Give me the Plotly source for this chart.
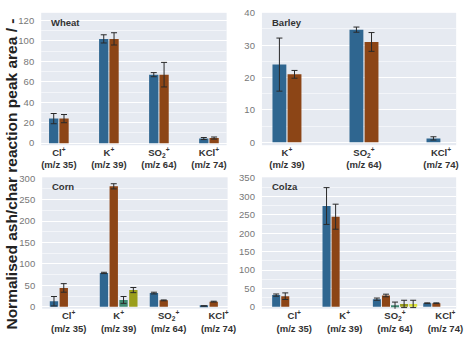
import plotly.graph_objects as go

# ---------------- data ----------------
tick_text = {
    "Cl": "<b>Cl<sup>+</sup></b><br><b>(m/z 35)</b>",
    "K": "<b>K<sup>+</sup></b><br><b>(m/z 39)</b>",
    "SO2": "<b>SO<sub>2</sub><sup>+</sup></b><br><b>(m/z 64)</b>",
    "KCl": "<b>KCl<sup>+</sup></b><br><b>(m/z 74)</b>",
}

wheat_cats = ["Cl", "K", "SO2", "KCl"]
wheat_s1 = [24, 102, 67, 4.5]
wheat_s1_err = [5, 4, 2, 1]
wheat_s2 = [24, 102, 67, 5]
wheat_s2_err = [4, 6, 12, 1]

barley_cats = ["K", "SO2", "KCl"]
barley_s1 = [24, 34.8, 1.2]
barley_s1_err = [8.2, 0.8, 0.5]
barley_s2 = [21, 31, None]
barley_s2_err = [1.2, 2.9, None]

corn_cats = ["Cl", "K", "SO2", "KCl"]
corn_s1 = [13, 79, 32, 2]
corn_s1_err = [11, 1.5, 2, 0.5]
corn_s2 = [44, 281, 15, 12]
corn_s2_err = [10, 6, 1, 1]
corn_s3 = [None, 16, None, None]
corn_s3_err = [None, 8, None, None]
corn_s4 = [None, 39, None, None]
corn_s4_err = [None, 6, None, None]

colza_cats = ["Cl", "K", "SO2", "KCl"]
colza_s1 = [32, 274, 21, 10]
colza_s1_err = [3, 50, 3, 1]
colza_s2 = [29, 245, 31, 10]
colza_s2_err = [9, 34, 3.5, 1]
colza_s3 = [None, None, 3, None]
colza_s3_err = [None, None, 10, None]
colza_s4 = [None, None, 8, None]
colza_s4_err = [None, None, 10, None]
colza_s5 = [None, None, 8, None]
colza_s5_err = [None, None, 10, None]

# ---------------- style ----------------
colors = ["#2f6690", "#8c4516", "#3f8a72", "#9a9e1c", "#d9e03c"]
FONT = "Liberation Sans, Arial, sans-serif"
W, H = 474, 338

panels = [
    dict(name="Wheat", cats=wheat_cats,
         series=[(wheat_s1, wheat_s1_err), (wheat_s2, wheat_s2_err)],
         ax="", xpx=(42, 231), ypx=(7, 143), yr=[-2, 127.5], dt=20,
         slot=0.206, bar=0.186, xr=[-0.353, 3.353]),
    dict(name="Barley", cats=barley_cats,
         series=[(barley_s1, barley_s1_err), (barley_s2, barley_s2_err)],
         ax="2", xpx=(267, 465), ypx=(7, 143), yr=[-0.9, 40], dt=10,
         slot=0.196, bar=0.18, xr=[-0.325, 2.197]),
    dict(name="Corn", cats=corn_cats,
         series=[(corn_s1, corn_s1_err), (corn_s2, corn_s2_err),
                 (corn_s3, corn_s3_err), (corn_s4, corn_s4_err)],
         ax="3", xpx=(43, 232), ypx=(176, 311), yr=[-4.5, 302], dt=50,
         slot=0.196, bar=0.167, xr=[-0.53, 3.18]),
    dict(name="Colza", cats=colza_cats,
         series=[(colza_s1, colza_s1_err), (colza_s2, colza_s2_err),
                 (colza_s3, colza_s3_err), (colza_s4, colza_s4_err),
                 (colza_s5, colza_s5_err)],
         ax="4", xpx=(267, 465), ypx=(176, 311), yr=[-5, 352], dt=50,
         slot=0.18, bar=0.16, xr=[-0.643, 3.214]),
]

fig = go.Figure()
layout = dict(
    width=W, height=H, margin=dict(l=0, r=0, t=0, b=0),
    paper_bgcolor="white", plot_bgcolor="#e6eaf1",
    showlegend=False, barmode="overlay",
    font=dict(family=FONT, size=10, color="#333"),
)
annotations = []

for p in panels:
    n = len(p["series"])
    start = -n * p["slot"] / 2
    for i, (vals, errs) in enumerate(p["series"]):
        fig.add_trace(go.Bar(
            x=p["cats"], y=vals,
            xaxis="x" + p["ax"], yaxis="y" + p["ax"],
            marker=dict(color=colors[i], line=dict(width=0)),
            width=p["bar"],
            offset=start + i * p["slot"] + (p["slot"] - p["bar"]) / 2,
            error_y=dict(type="data", array=errs, color="#2a2a2a",
                         thickness=1, width=3),
        ))
    xl, xr_ = p["xpx"]
    yt, yb = p["ypx"]
    layout["xaxis" + p["ax"]] = dict(
        domain=[xl / W, xr_ / W], anchor="y" + p["ax"],
        type="category", range=p["xr"],
        tickvals=p["cats"], ticktext=[tick_text[c] for c in p["cats"]],
        tickfont=dict(family=FONT, size=9.5, color="#333"),
        showgrid=False, zeroline=False, ticks="", showline=False,
        ticklabelstandoff=0,
    )
    layout["yaxis" + p["ax"]] = dict(
        domain=[1 - yb / H, 1 - yt / H], anchor="x" + p["ax"],
        range=p["yr"], dtick=p["dt"], tick0=0,
        showgrid=True, gridcolor="white", gridwidth=1,
        minor=dict(dtick=p["dt"] / 2, showgrid=True, gridcolor="#f3f5f9", gridwidth=1),
        zeroline=False, ticks="", showline=False,
        tickfont=dict(family=FONT, size=9.5, color="#777"),
        ticklabelstandoff=6,
    )
    annotations.append(dict(
        text="<b>" + p["name"] + "</b>", xref="x" + p["ax"] + " domain",
        yref="y" + p["ax"] + " domain", x=0.04, y=0.985,
        xanchor="left", yanchor="top", showarrow=False,
        font=dict(family=FONT, size=9.5, color="#333"),
    ))

annotations.append(dict(
    text="<b>Normalised ash/char reaction peak area / -</b>",
    xref="paper", yref="paper", x=12 / W, y=0.49,
    xanchor="center", yanchor="middle", textangle=-90, showarrow=False,
    font=dict(family=FONT, size=15.5, color="#222"),
))
layout["annotations"] = annotations
fig.update_layout(**layout)
fig.write_html("out.html")
